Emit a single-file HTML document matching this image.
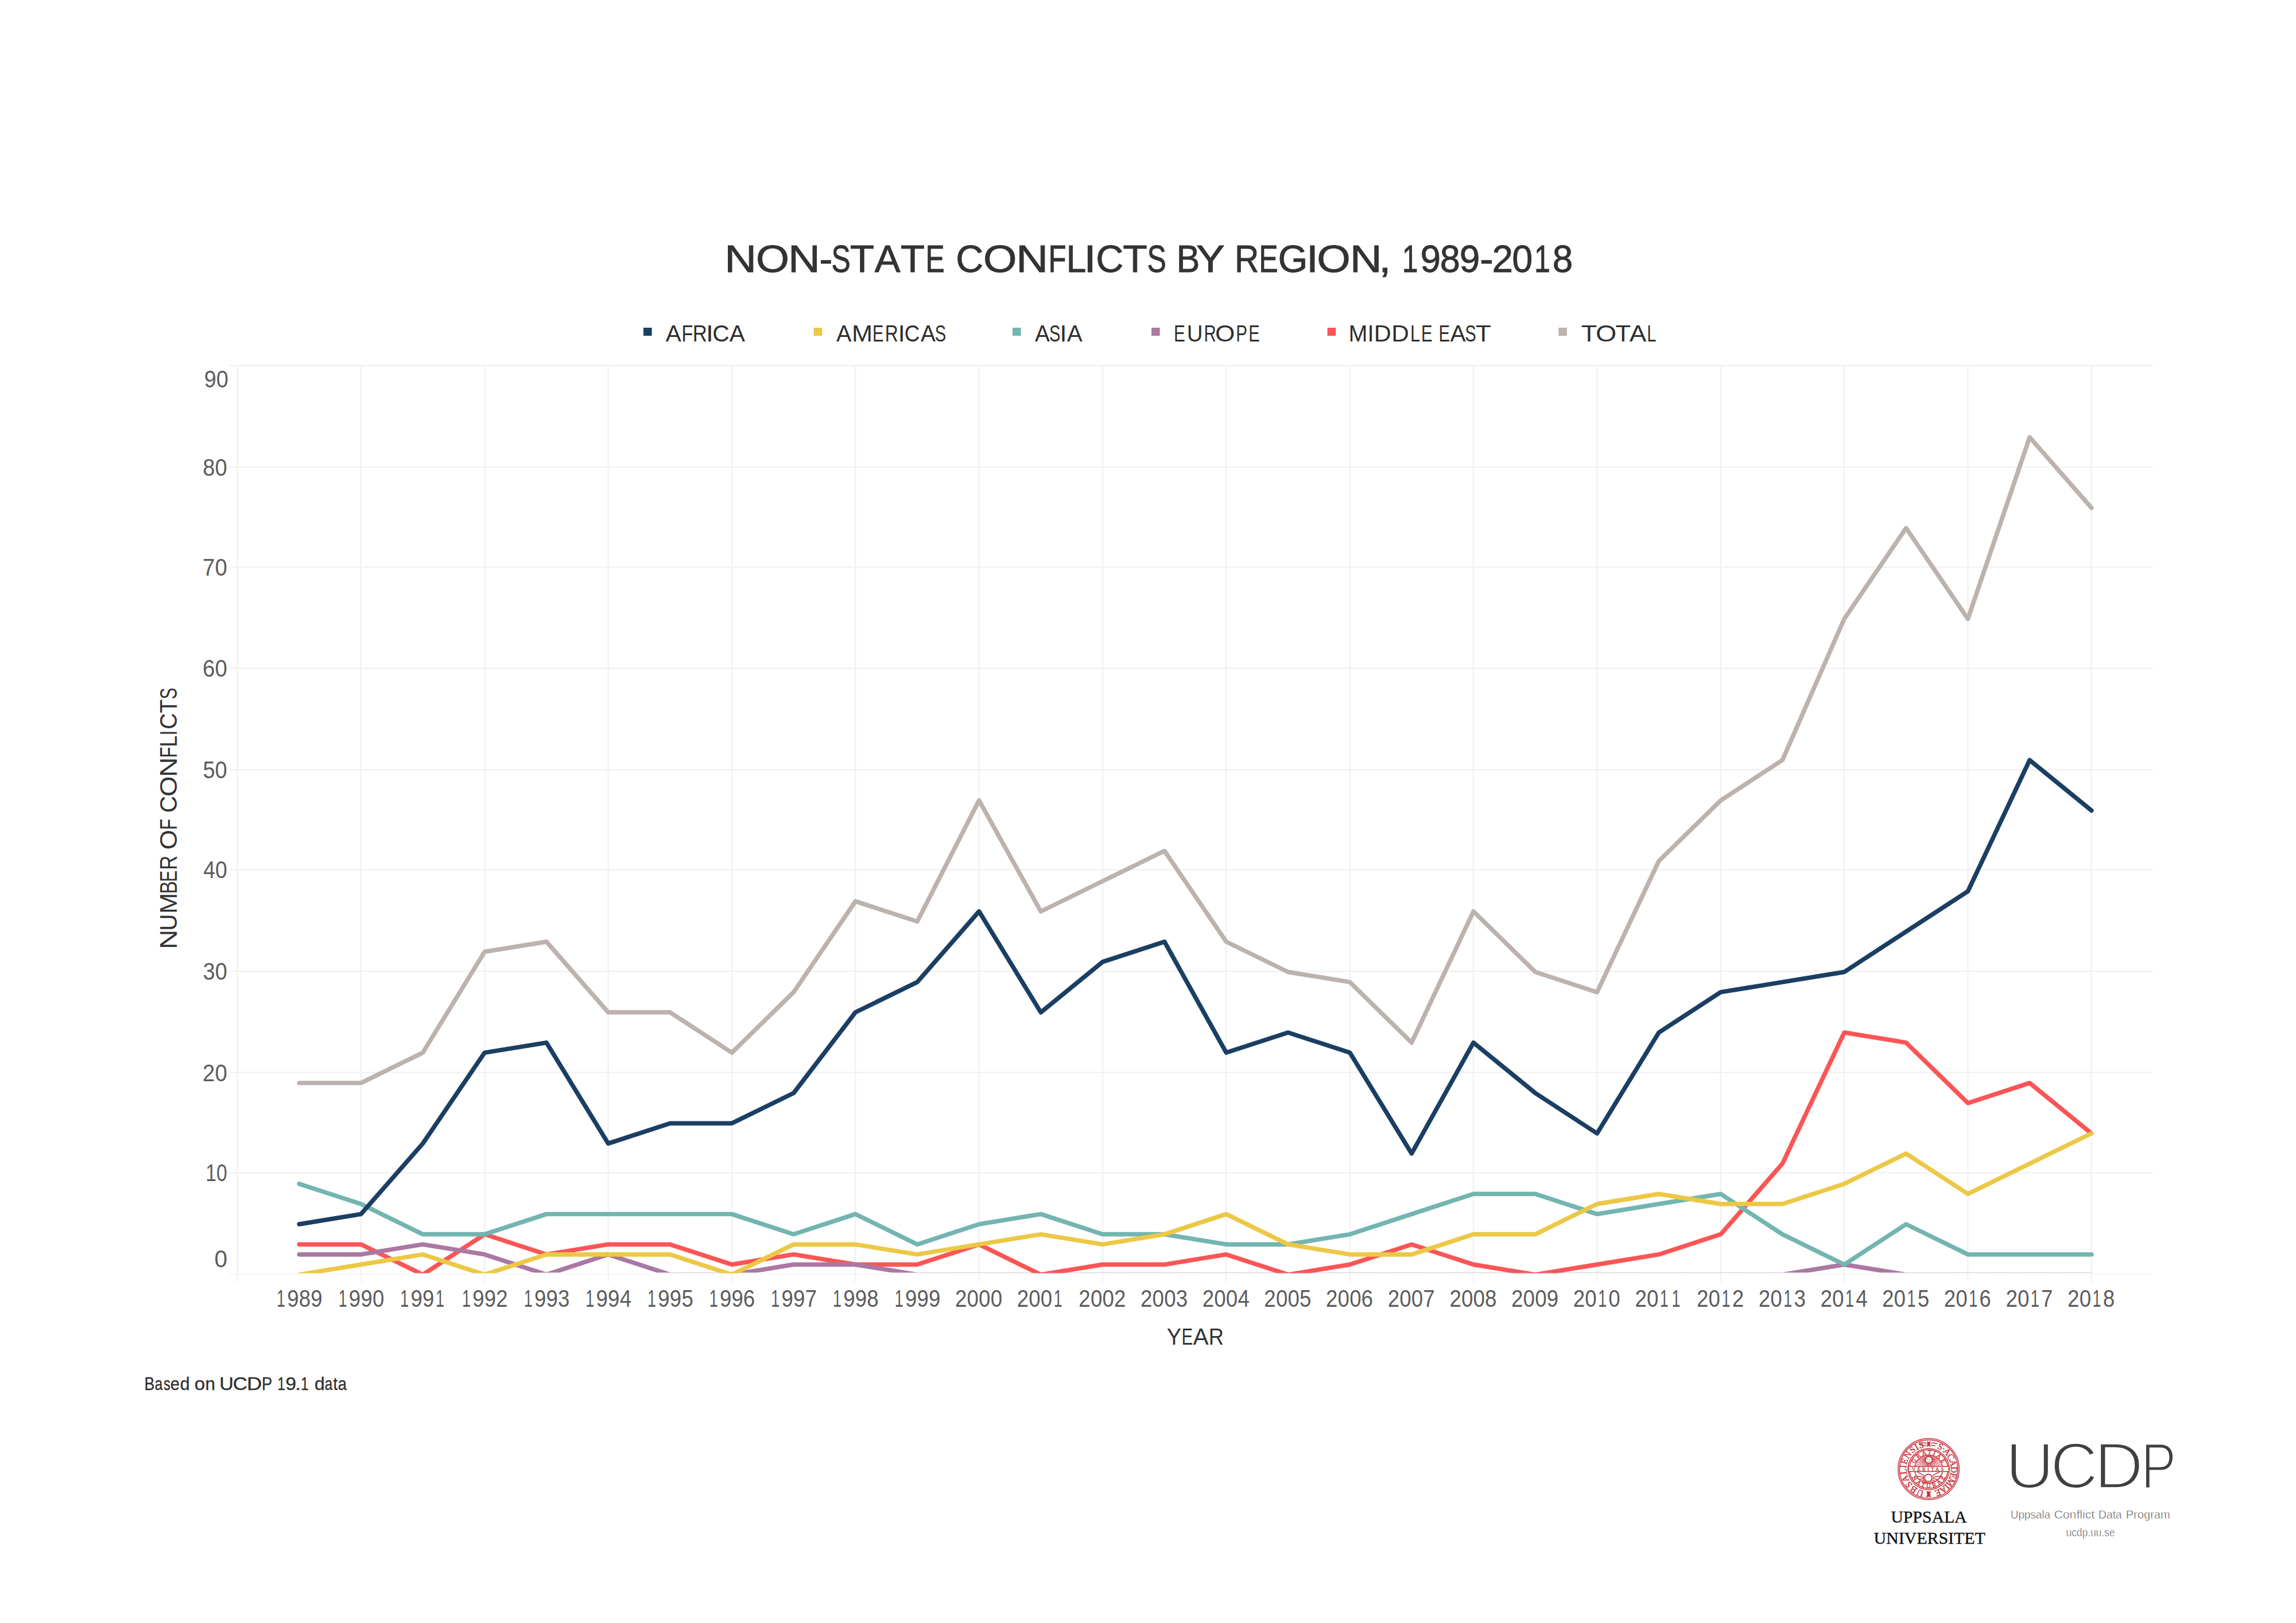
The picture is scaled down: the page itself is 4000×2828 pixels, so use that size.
<!DOCTYPE html>
<html lang="en"><head><meta charset="utf-8"><title>Non-state conflicts by region, 1989-2018</title>
<style>html,body{margin:0;padding:0;background:#fff}body{width:4000px;height:2828px;overflow:hidden}svg{display:block}</style></head><body>
<svg width="4000" height="2828" viewBox="0 0 4000 2828">
<rect width="4000" height="2828" fill="#ffffff"/>
<g stroke="#f3f2f2" stroke-width="2.6" fill="none">
<line x1="413.6" y1="637.0" x2="413.6" y2="2233.5"/>
<line x1="628.9" y1="637.0" x2="628.9" y2="2233.5"/>
<line x1="844.3" y1="637.0" x2="844.3" y2="2233.5"/>
<line x1="1059.6" y1="637.0" x2="1059.6" y2="2233.5"/>
<line x1="1275.0" y1="637.0" x2="1275.0" y2="2233.5"/>
<line x1="1490.3" y1="637.0" x2="1490.3" y2="2233.5"/>
<line x1="1705.6" y1="637.0" x2="1705.6" y2="2233.5"/>
<line x1="1921.0" y1="637.0" x2="1921.0" y2="2233.5"/>
<line x1="2136.3" y1="637.0" x2="2136.3" y2="2233.5"/>
<line x1="2351.7" y1="637.0" x2="2351.7" y2="2233.5"/>
<line x1="2567.0" y1="637.0" x2="2567.0" y2="2233.5"/>
<line x1="2782.3" y1="637.0" x2="2782.3" y2="2233.5"/>
<line x1="2997.7" y1="637.0" x2="2997.7" y2="2233.5"/>
<line x1="3213.0" y1="637.0" x2="3213.0" y2="2233.5"/>
<line x1="3428.4" y1="637.0" x2="3428.4" y2="2233.5"/>
<line x1="3643.7" y1="637.0" x2="3643.7" y2="2233.5"/>
</g>
<g stroke="#f3f2f2" stroke-width="2.5" fill="none">
<line x1="399.7" y1="637.0" x2="3751.0" y2="637.0"/>
<line x1="399.7" y1="2043.7" x2="3751.0" y2="2043.7"/>
<line x1="399.7" y1="1868.8" x2="3751.0" y2="1868.8"/>
<line x1="399.7" y1="1692.6" x2="3751.0" y2="1692.6"/>
<line x1="399.7" y1="1515.6" x2="3751.0" y2="1515.6"/>
<line x1="399.7" y1="1341.2" x2="3751.0" y2="1341.2"/>
<line x1="399.7" y1="1164.4" x2="3751.0" y2="1164.4"/>
<line x1="399.7" y1="988.0" x2="3751.0" y2="988.0"/>
<line x1="399.7" y1="813.8" x2="3751.0" y2="813.8"/>
<line x1="399.7" y1="2220.0" x2="3751.0" y2="2220.0" stroke-dasharray="5 2" stroke-width="2.4" stroke="#f5f5f5"/>
</g>
<defs><clipPath id="plot"><rect x="413.2" y="637.0" width="3337.8" height="1581.6"/></clipPath><clipPath id="plotE"><rect x="413.2" y="637.0" width="3337.8" height="1580.5"/></clipPath></defs>
<g clip-path="url(#plot)"><polyline fill="none" stroke="#bcb2ae" stroke-width="7.7" stroke-linejoin="round" stroke-linecap="round" points="521.3,1887.0 628.9,1887.0 736.6,1834.2 844.3,1658.4 952.0,1640.9 1059.6,1763.9 1167.3,1763.9 1275.0,1834.2 1382.6,1728.8 1490.3,1570.5 1598.0,1605.7 1705.6,1394.7 1813.3,1588.1 1921.0,1535.4 2028.7,1482.6 2136.3,1640.9 2244.0,1693.6 2351.7,1711.2 2459.3,1816.7 2567.0,1588.1 2674.7,1693.6 2782.3,1728.8 2890.0,1500.2 2997.7,1394.7 3105.3,1324.4 3213.0,1078.3 3320.7,920.1 3428.4,1078.3 3536.0,761.9 3643.7,884.9"/></g>
<g clip-path="url(#plot)"><polyline fill="none" stroke="#fc5555" stroke-width="7.7" stroke-linejoin="round" stroke-linecap="round" points="521.3,2168.3 628.9,2168.3 736.6,2221.0 844.3,2150.7 952.0,2185.8 1059.6,2168.3 1167.3,2168.3 1275.0,2203.4 1382.6,2185.8 1490.3,2203.4 1598.0,2203.4 1705.6,2168.3 1813.3,2221.0 1921.0,2203.4 2028.7,2203.4 2136.3,2185.8 2244.0,2221.0 2351.7,2203.4 2459.3,2168.3 2567.0,2203.4 2674.7,2221.0 2782.3,2203.4 2890.0,2185.8 2997.7,2150.7 3105.3,2027.6 3213.0,1799.1 3320.7,1816.7 3428.4,1922.1 3536.0,1887.0 3643.7,1974.9"/></g>
<g clip-path="url(#plotE)"><polyline fill="none" stroke="#aa78a3" stroke-width="7.7" stroke-linejoin="round" stroke-linecap="round" points="521.3,2185.8 628.9,2185.8 736.6,2168.3 844.3,2185.8 952.0,2221.0 1059.6,2185.8 1167.3,2221.0 1275.0,2221.0 1382.6,2203.4 1490.3,2203.4 1598.0,2221.0 1705.6,2221.0 1813.3,2221.0 1921.0,2221.0 2028.7,2221.0 2136.3,2221.0 2244.0,2221.0 2351.7,2221.0 2459.3,2221.0 2567.0,2221.0 2674.7,2221.0 2782.3,2221.0 2890.0,2221.0 2997.7,2221.0 3105.3,2221.0 3213.0,2203.4 3320.7,2221.0 3428.4,2221.0 3536.0,2221.0 3643.7,2221.0"/></g>
<g clip-path="url(#plot)"><polyline fill="none" stroke="#73b5b0" stroke-width="7.7" stroke-linejoin="round" stroke-linecap="round" points="521.3,2062.8 628.9,2097.9 736.6,2150.7 844.3,2150.7 952.0,2115.5 1059.6,2115.5 1167.3,2115.5 1275.0,2115.5 1382.6,2150.7 1490.3,2115.5 1598.0,2168.3 1705.6,2133.1 1813.3,2115.5 1921.0,2150.7 2028.7,2150.7 2136.3,2168.3 2244.0,2168.3 2351.7,2150.7 2459.3,2115.5 2567.0,2080.4 2674.7,2080.4 2782.3,2115.5 2890.0,2097.9 2997.7,2080.4 3105.3,2150.7 3213.0,2203.4 3320.7,2133.1 3428.4,2185.8 3536.0,2185.8 3643.7,2185.8"/></g>
<g clip-path="url(#plot)"><polyline fill="none" stroke="#ecc846" stroke-width="7.7" stroke-linejoin="round" stroke-linecap="round" points="521.3,2221.0 628.9,2203.4 736.6,2185.8 844.3,2221.0 952.0,2185.8 1059.6,2185.8 1167.3,2185.8 1275.0,2221.0 1382.6,2168.3 1490.3,2168.3 1598.0,2185.8 1705.6,2168.3 1813.3,2150.7 1921.0,2168.3 2028.7,2150.7 2136.3,2115.5 2244.0,2168.3 2351.7,2185.8 2459.3,2185.8 2567.0,2150.7 2674.7,2150.7 2782.3,2097.9 2890.0,2080.4 2997.7,2097.9 3105.3,2097.9 3213.0,2062.8 3320.7,2010.0 3428.4,2080.4 3536.0,2027.6 3643.7,1974.9"/></g>
<g clip-path="url(#plot)"><polyline fill="none" stroke="#1b3f63" stroke-width="7.7" stroke-linejoin="round" stroke-linecap="round" points="521.3,2133.1 628.9,2115.5 736.6,1992.5 844.3,1834.2 952.0,1816.7 1059.6,1992.5 1167.3,1957.3 1275.0,1957.3 1382.6,1904.6 1490.3,1763.9 1598.0,1711.2 1705.6,1588.1 1813.3,1763.9 1921.0,1676.0 2028.7,1640.9 2136.3,1834.2 2244.0,1799.1 2351.7,1834.2 2459.3,2010.0 2567.0,1816.7 2674.7,1904.6 2782.3,1974.9 2890.0,1799.1 2997.7,1728.8 3105.3,1711.2 3213.0,1693.6 3320.7,1623.3 3428.4,1553.0 3536.0,1324.4 3643.7,1412.3"/></g>
<text y="474.20" font-family="Liberation Sans, sans-serif" font-size="67.3" fill="#333333" stroke="#333333" stroke-width="0.9"><tspan x="1262.16" textLength="55.89" lengthAdjust="spacingAndGlyphs">N</tspan><tspan x="1317.12" textLength="57.94" lengthAdjust="spacingAndGlyphs">O</tspan><tspan x="1373.11" textLength="55.89" lengthAdjust="spacingAndGlyphs">N</tspan><tspan x="1427.43" textLength="22.82" lengthAdjust="spacingAndGlyphs">-</tspan><tspan x="1448.55" textLength="33.22" lengthAdjust="spacingAndGlyphs">S</tspan><tspan x="1481.00" textLength="41.96" lengthAdjust="spacingAndGlyphs">T</tspan><tspan x="1523.68" textLength="44.97" lengthAdjust="spacingAndGlyphs">A</tspan><tspan x="1569.00" textLength="41.96" lengthAdjust="spacingAndGlyphs">T</tspan><tspan x="1612.45" textLength="33.22" lengthAdjust="spacingAndGlyphs">E</tspan> <tspan x="1665.37" textLength="48.12" lengthAdjust="spacingAndGlyphs">C</tspan><tspan x="1713.09" textLength="58.51" lengthAdjust="spacingAndGlyphs">O</tspan><tspan x="1770.16" textLength="55.89" lengthAdjust="spacingAndGlyphs">N</tspan><tspan x="1826.45" textLength="31.13" lengthAdjust="spacingAndGlyphs">F</tspan><tspan x="1857.83" textLength="34.51" lengthAdjust="spacingAndGlyphs">L</tspan><tspan x="1888.26" textLength="21.50" lengthAdjust="spacingAndGlyphs">I</tspan><tspan x="1909.27" textLength="48.12" lengthAdjust="spacingAndGlyphs">C</tspan><tspan x="1956.28" textLength="42.51" lengthAdjust="spacingAndGlyphs">T</tspan><tspan x="1998.50" textLength="33.22" lengthAdjust="spacingAndGlyphs">S</tspan> <tspan x="2049.74" textLength="40.52" lengthAdjust="spacingAndGlyphs">B</tspan><tspan x="2083.91" textLength="48.41" lengthAdjust="spacingAndGlyphs">Y</tspan> <tspan x="2151.01" textLength="42.36" lengthAdjust="spacingAndGlyphs">R</tspan><tspan x="2193.15" textLength="33.22" lengthAdjust="spacingAndGlyphs">E</tspan><tspan x="2226.57" textLength="51.79" lengthAdjust="spacingAndGlyphs">G</tspan><tspan x="2276.00" textLength="20.84" lengthAdjust="spacingAndGlyphs">I</tspan><tspan x="2294.29" textLength="58.51" lengthAdjust="spacingAndGlyphs">O</tspan><tspan x="2351.71" textLength="55.89" lengthAdjust="spacingAndGlyphs">N</tspan><tspan x="2402.09" textLength="21.50" lengthAdjust="spacingAndGlyphs">,</tspan> <tspan x="2442.82" textLength="27.70" lengthAdjust="spacingAndGlyphs">1</tspan><tspan x="2474.52" textLength="35.53" lengthAdjust="spacingAndGlyphs">9</tspan><tspan x="2508.77" textLength="35.03" lengthAdjust="spacingAndGlyphs">8</tspan><tspan x="2542.82" textLength="35.53" lengthAdjust="spacingAndGlyphs">9</tspan><tspan x="2578.03" textLength="23.63" lengthAdjust="spacingAndGlyphs">-</tspan><tspan x="2599.62" textLength="36.54" lengthAdjust="spacingAndGlyphs">2</tspan><tspan x="2634.32" textLength="35.94" lengthAdjust="spacingAndGlyphs">0</tspan><tspan x="2673.07" textLength="27.70" lengthAdjust="spacingAndGlyphs">1</tspan><tspan x="2704.74" textLength="35.38" lengthAdjust="spacingAndGlyphs">8</tspan></text>
<rect x="1121" y="571" width="14.6" height="14" fill="#1b3f63"/>
<text y="595.20" font-family="Liberation Sans, sans-serif" font-size="40.5" fill="#2e2e2e" ><tspan x="1159.76" textLength="27.08" lengthAdjust="spacingAndGlyphs">A</tspan><tspan x="1187.39" textLength="19.83" lengthAdjust="spacingAndGlyphs">F</tspan><tspan x="1206.81" textLength="25.07" lengthAdjust="spacingAndGlyphs">R</tspan><tspan x="1229.90" textLength="12.80" lengthAdjust="spacingAndGlyphs">I</tspan><tspan x="1241.26" textLength="29.42" lengthAdjust="spacingAndGlyphs">C</tspan><tspan x="1270.86" textLength="27.18" lengthAdjust="spacingAndGlyphs">A</tspan></text>
<rect x="1417.7" y="571" width="14.6" height="14" fill="#ecc846"/>
<text y="595.20" font-family="Liberation Sans, sans-serif" font-size="40.5" fill="#2e2e2e" ><tspan x="1457.07" textLength="26.27" lengthAdjust="spacingAndGlyphs">A</tspan><tspan x="1483.99" textLength="36.11" lengthAdjust="spacingAndGlyphs">M</tspan><tspan x="1520.10" textLength="19.45" lengthAdjust="spacingAndGlyphs">E</tspan><tspan x="1541.65" textLength="23.00" lengthAdjust="spacingAndGlyphs">R</tspan><tspan x="1564.70" textLength="11.91" lengthAdjust="spacingAndGlyphs">I</tspan><tspan x="1575.76" textLength="26.57" lengthAdjust="spacingAndGlyphs">C</tspan><tspan x="1604.07" textLength="25.87" lengthAdjust="spacingAndGlyphs">A</tspan><tspan x="1628.73" textLength="19.45" lengthAdjust="spacingAndGlyphs">S</tspan></text>
<rect x="1764" y="571" width="14.6" height="14" fill="#73b5b0"/>
<text y="595.20" font-family="Liberation Sans, sans-serif" font-size="40.5" fill="#2e2e2e" ><tspan x="1803.07" textLength="25.87" lengthAdjust="spacingAndGlyphs">A</tspan><tspan x="1828.03" textLength="19.45" lengthAdjust="spacingAndGlyphs">S</tspan><tspan x="1846.40" textLength="11.91" lengthAdjust="spacingAndGlyphs">I</tspan><tspan x="1858.97" textLength="26.68" lengthAdjust="spacingAndGlyphs">A</tspan></text>
<rect x="2006" y="571" width="14.6" height="14" fill="#aa78a3"/>
<text y="595.20" font-family="Liberation Sans, sans-serif" font-size="40.5" fill="#2e2e2e" ><tspan x="2045.03" textLength="19.76" lengthAdjust="spacingAndGlyphs">E</tspan><tspan x="2067.85" textLength="27.75" lengthAdjust="spacingAndGlyphs">U</tspan><tspan x="2097.56" textLength="21.18" lengthAdjust="spacingAndGlyphs">R</tspan><tspan x="2117.14" textLength="34.38" lengthAdjust="spacingAndGlyphs">O</tspan><tspan x="2153.35" textLength="19.63" lengthAdjust="spacingAndGlyphs">P</tspan><tspan x="2175.25" textLength="19.45" lengthAdjust="spacingAndGlyphs">E</tspan></text>
<rect x="2312.5" y="571" width="14.6" height="14" fill="#fc5555"/>
<text y="595.20" font-family="Liberation Sans, sans-serif" font-size="40.5" fill="#2e2e2e" ><tspan x="2349.41" textLength="32.86" lengthAdjust="spacingAndGlyphs">M</tspan><tspan x="2382.60" textLength="11.01" lengthAdjust="spacingAndGlyphs">I</tspan><tspan x="2393.85" textLength="29.87" lengthAdjust="spacingAndGlyphs">D</tspan><tspan x="2424.28" textLength="30.48" lengthAdjust="spacingAndGlyphs">D</tspan><tspan x="2456.96" textLength="16.94" lengthAdjust="spacingAndGlyphs">L</tspan><tspan x="2476.05" textLength="19.45" lengthAdjust="spacingAndGlyphs">E</tspan> <tspan x="2506.50" textLength="19.45" lengthAdjust="spacingAndGlyphs">E</tspan><tspan x="2526.46" textLength="27.08" lengthAdjust="spacingAndGlyphs">A</tspan><tspan x="2552.23" textLength="19.45" lengthAdjust="spacingAndGlyphs">S</tspan><tspan x="2570.67" textLength="27.00" lengthAdjust="spacingAndGlyphs">T</tspan></text>
<rect x="2715.2" y="571" width="14.6" height="14" fill="#bcb2ae"/>
<text y="595.20" font-family="Liberation Sans, sans-serif" font-size="40.5" fill="#2e2e2e" ><tspan x="2754.86" textLength="27.22" lengthAdjust="spacingAndGlyphs">T</tspan><tspan x="2780.11" textLength="36.23" lengthAdjust="spacingAndGlyphs">O</tspan><tspan x="2814.59" textLength="26.46" lengthAdjust="spacingAndGlyphs">T</tspan><tspan x="2838.65" textLength="29.51" lengthAdjust="spacingAndGlyphs">A</tspan><tspan x="2869.20" textLength="16.22" lengthAdjust="spacingAndGlyphs">L</tspan></text>
<text transform="translate(373.47,2208.40) scale(0.9465,1.0000)" font-family="Liberation Sans, sans-serif" font-size="43" fill="#5c5c5c" >0</text>
<text transform="translate(358.21,2058.40) scale(0.7863,1.0000)" font-family="Liberation Sans, sans-serif" font-size="43" fill="#5c5c5c" >10</text>
<text transform="translate(353.08,1883.50) scale(0.8931,1.0000)" font-family="Liberation Sans, sans-serif" font-size="43" fill="#5c5c5c" >20</text>
<text transform="translate(353.61,1707.30) scale(0.8816,1.0000)" font-family="Liberation Sans, sans-serif" font-size="43" fill="#5c5c5c" >30</text>
<text transform="translate(354.13,1530.30) scale(0.8704,1.0000)" font-family="Liberation Sans, sans-serif" font-size="43" fill="#5c5c5c" >40</text>
<text transform="translate(353.48,1355.90) scale(0.8845,1.0000)" font-family="Liberation Sans, sans-serif" font-size="43" fill="#5c5c5c" >50</text>
<text transform="translate(353.08,1179.10) scale(0.8931,1.0000)" font-family="Liberation Sans, sans-serif" font-size="43" fill="#5c5c5c" >60</text>
<text transform="translate(353.08,1002.70) scale(0.8931,1.0000)" font-family="Liberation Sans, sans-serif" font-size="43" fill="#5c5c5c" >70</text>
<text transform="translate(353.35,828.50) scale(0.8873,1.0000)" font-family="Liberation Sans, sans-serif" font-size="43" fill="#5c5c5c" >80</text>
<text transform="translate(355.63,675.40) scale(0.8812,1.0000)" font-family="Liberation Sans, sans-serif" font-size="43" fill="#5c5c5c" >90</text>
<text y="2277.00" font-family="Liberation Sans, sans-serif" font-size="42" fill="#5c5c5c" ><tspan x="482.00" textLength="14.95" lengthAdjust="spacingAndGlyphs">1</tspan><tspan x="500.20" textLength="20.37" lengthAdjust="spacingAndGlyphs">9</tspan><tspan x="520.75" textLength="20.37" lengthAdjust="spacingAndGlyphs">8</tspan><tspan x="541.30" textLength="20.37" lengthAdjust="spacingAndGlyphs">9</tspan></text>
<text y="2277.00" font-family="Liberation Sans, sans-serif" font-size="42" fill="#5c5c5c" ><tspan x="589.68" textLength="14.95" lengthAdjust="spacingAndGlyphs">1</tspan><tspan x="607.87" textLength="20.37" lengthAdjust="spacingAndGlyphs">9</tspan><tspan x="628.42" textLength="20.37" lengthAdjust="spacingAndGlyphs">9</tspan><tspan x="648.97" textLength="20.37" lengthAdjust="spacingAndGlyphs">0</tspan></text>
<text y="2277.00" font-family="Liberation Sans, sans-serif" font-size="42" fill="#5c5c5c" ><tspan x="697.35" textLength="14.95" lengthAdjust="spacingAndGlyphs">1</tspan><tspan x="715.54" textLength="20.37" lengthAdjust="spacingAndGlyphs">9</tspan><tspan x="736.09" textLength="20.37" lengthAdjust="spacingAndGlyphs">9</tspan><tspan x="759.00" textLength="14.95" lengthAdjust="spacingAndGlyphs">1</tspan></text>
<text y="2277.00" font-family="Liberation Sans, sans-serif" font-size="42" fill="#5c5c5c" ><tspan x="805.01" textLength="14.95" lengthAdjust="spacingAndGlyphs">1</tspan><tspan x="823.21" textLength="20.37" lengthAdjust="spacingAndGlyphs">9</tspan><tspan x="843.76" textLength="20.37" lengthAdjust="spacingAndGlyphs">9</tspan><tspan x="864.31" textLength="20.37" lengthAdjust="spacingAndGlyphs">2</tspan></text>
<text y="2277.00" font-family="Liberation Sans, sans-serif" font-size="42" fill="#5c5c5c" ><tspan x="912.69" textLength="14.95" lengthAdjust="spacingAndGlyphs">1</tspan><tspan x="930.88" textLength="20.37" lengthAdjust="spacingAndGlyphs">9</tspan><tspan x="951.43" textLength="20.37" lengthAdjust="spacingAndGlyphs">9</tspan><tspan x="972.10" textLength="20.37" lengthAdjust="spacingAndGlyphs">3</tspan></text>
<text y="2277.00" font-family="Liberation Sans, sans-serif" font-size="42" fill="#5c5c5c" ><tspan x="1020.36" textLength="14.95" lengthAdjust="spacingAndGlyphs">1</tspan><tspan x="1038.55" textLength="20.37" lengthAdjust="spacingAndGlyphs">9</tspan><tspan x="1059.10" textLength="20.37" lengthAdjust="spacingAndGlyphs">9</tspan><tspan x="1079.77" textLength="20.37" lengthAdjust="spacingAndGlyphs">4</tspan></text>
<text y="2277.00" font-family="Liberation Sans, sans-serif" font-size="42" fill="#5c5c5c" ><tspan x="1128.03" textLength="14.95" lengthAdjust="spacingAndGlyphs">1</tspan><tspan x="1146.22" textLength="20.37" lengthAdjust="spacingAndGlyphs">9</tspan><tspan x="1166.77" textLength="20.37" lengthAdjust="spacingAndGlyphs">9</tspan><tspan x="1187.38" textLength="20.37" lengthAdjust="spacingAndGlyphs">5</tspan></text>
<text y="2277.00" font-family="Liberation Sans, sans-serif" font-size="42" fill="#5c5c5c" ><tspan x="1235.70" textLength="14.95" lengthAdjust="spacingAndGlyphs">1</tspan><tspan x="1253.89" textLength="20.37" lengthAdjust="spacingAndGlyphs">9</tspan><tspan x="1274.44" textLength="20.37" lengthAdjust="spacingAndGlyphs">9</tspan><tspan x="1294.87" textLength="20.37" lengthAdjust="spacingAndGlyphs">6</tspan></text>
<text y="2277.00" font-family="Liberation Sans, sans-serif" font-size="42" fill="#5c5c5c" ><tspan x="1343.37" textLength="14.95" lengthAdjust="spacingAndGlyphs">1</tspan><tspan x="1361.56" textLength="20.37" lengthAdjust="spacingAndGlyphs">9</tspan><tspan x="1382.11" textLength="20.37" lengthAdjust="spacingAndGlyphs">9</tspan><tspan x="1402.66" textLength="20.37" lengthAdjust="spacingAndGlyphs">7</tspan></text>
<text y="2277.00" font-family="Liberation Sans, sans-serif" font-size="42" fill="#5c5c5c" ><tspan x="1451.04" textLength="14.95" lengthAdjust="spacingAndGlyphs">1</tspan><tspan x="1469.23" textLength="20.37" lengthAdjust="spacingAndGlyphs">9</tspan><tspan x="1489.78" textLength="20.37" lengthAdjust="spacingAndGlyphs">9</tspan><tspan x="1510.33" textLength="20.37" lengthAdjust="spacingAndGlyphs">8</tspan></text>
<text y="2277.00" font-family="Liberation Sans, sans-serif" font-size="42" fill="#5c5c5c" ><tspan x="1558.71" textLength="14.95" lengthAdjust="spacingAndGlyphs">1</tspan><tspan x="1576.90" textLength="20.37" lengthAdjust="spacingAndGlyphs">9</tspan><tspan x="1597.45" textLength="20.37" lengthAdjust="spacingAndGlyphs">9</tspan><tspan x="1618.00" textLength="20.37" lengthAdjust="spacingAndGlyphs">9</tspan></text>
<text y="2277.00" font-family="Liberation Sans, sans-serif" font-size="42" fill="#5c5c5c" ><tspan x="1664.02" textLength="20.37" lengthAdjust="spacingAndGlyphs">2</tspan><tspan x="1684.57" textLength="20.37" lengthAdjust="spacingAndGlyphs">0</tspan><tspan x="1705.12" textLength="20.37" lengthAdjust="spacingAndGlyphs">0</tspan><tspan x="1725.67" textLength="20.37" lengthAdjust="spacingAndGlyphs">0</tspan></text>
<text y="2277.00" font-family="Liberation Sans, sans-serif" font-size="42" fill="#5c5c5c" ><tspan x="1771.69" textLength="20.37" lengthAdjust="spacingAndGlyphs">2</tspan><tspan x="1792.24" textLength="20.37" lengthAdjust="spacingAndGlyphs">0</tspan><tspan x="1812.79" textLength="20.37" lengthAdjust="spacingAndGlyphs">0</tspan><tspan x="1835.70" textLength="14.95" lengthAdjust="spacingAndGlyphs">1</tspan></text>
<text y="2277.00" font-family="Liberation Sans, sans-serif" font-size="42" fill="#5c5c5c" ><tspan x="1879.36" textLength="20.37" lengthAdjust="spacingAndGlyphs">2</tspan><tspan x="1899.91" textLength="20.37" lengthAdjust="spacingAndGlyphs">0</tspan><tspan x="1920.46" textLength="20.37" lengthAdjust="spacingAndGlyphs">0</tspan><tspan x="1941.01" textLength="20.37" lengthAdjust="spacingAndGlyphs">2</tspan></text>
<text y="2277.00" font-family="Liberation Sans, sans-serif" font-size="42" fill="#5c5c5c" ><tspan x="1987.03" textLength="20.37" lengthAdjust="spacingAndGlyphs">2</tspan><tspan x="2007.58" textLength="20.37" lengthAdjust="spacingAndGlyphs">0</tspan><tspan x="2028.13" textLength="20.37" lengthAdjust="spacingAndGlyphs">0</tspan><tspan x="2048.80" textLength="20.37" lengthAdjust="spacingAndGlyphs">3</tspan></text>
<text y="2277.00" font-family="Liberation Sans, sans-serif" font-size="42" fill="#5c5c5c" ><tspan x="2094.70" textLength="20.37" lengthAdjust="spacingAndGlyphs">2</tspan><tspan x="2115.25" textLength="20.37" lengthAdjust="spacingAndGlyphs">0</tspan><tspan x="2135.80" textLength="20.37" lengthAdjust="spacingAndGlyphs">0</tspan><tspan x="2156.47" textLength="20.37" lengthAdjust="spacingAndGlyphs">4</tspan></text>
<text y="2277.00" font-family="Liberation Sans, sans-serif" font-size="42" fill="#5c5c5c" ><tspan x="2202.37" textLength="20.37" lengthAdjust="spacingAndGlyphs">2</tspan><tspan x="2222.92" textLength="20.37" lengthAdjust="spacingAndGlyphs">0</tspan><tspan x="2243.47" textLength="20.37" lengthAdjust="spacingAndGlyphs">0</tspan><tspan x="2264.08" textLength="20.37" lengthAdjust="spacingAndGlyphs">5</tspan></text>
<text y="2277.00" font-family="Liberation Sans, sans-serif" font-size="42" fill="#5c5c5c" ><tspan x="2310.04" textLength="20.37" lengthAdjust="spacingAndGlyphs">2</tspan><tspan x="2330.59" textLength="20.37" lengthAdjust="spacingAndGlyphs">0</tspan><tspan x="2351.14" textLength="20.37" lengthAdjust="spacingAndGlyphs">0</tspan><tspan x="2371.57" textLength="20.37" lengthAdjust="spacingAndGlyphs">6</tspan></text>
<text y="2277.00" font-family="Liberation Sans, sans-serif" font-size="42" fill="#5c5c5c" ><tspan x="2417.71" textLength="20.37" lengthAdjust="spacingAndGlyphs">2</tspan><tspan x="2438.26" textLength="20.37" lengthAdjust="spacingAndGlyphs">0</tspan><tspan x="2458.81" textLength="20.37" lengthAdjust="spacingAndGlyphs">0</tspan><tspan x="2479.36" textLength="20.37" lengthAdjust="spacingAndGlyphs">7</tspan></text>
<text y="2277.00" font-family="Liberation Sans, sans-serif" font-size="42" fill="#5c5c5c" ><tspan x="2525.38" textLength="20.37" lengthAdjust="spacingAndGlyphs">2</tspan><tspan x="2545.93" textLength="20.37" lengthAdjust="spacingAndGlyphs">0</tspan><tspan x="2566.48" textLength="20.37" lengthAdjust="spacingAndGlyphs">0</tspan><tspan x="2587.03" textLength="20.37" lengthAdjust="spacingAndGlyphs">8</tspan></text>
<text y="2277.00" font-family="Liberation Sans, sans-serif" font-size="42" fill="#5c5c5c" ><tspan x="2633.05" textLength="20.37" lengthAdjust="spacingAndGlyphs">2</tspan><tspan x="2653.60" textLength="20.37" lengthAdjust="spacingAndGlyphs">0</tspan><tspan x="2674.15" textLength="20.37" lengthAdjust="spacingAndGlyphs">0</tspan><tspan x="2694.70" textLength="20.37" lengthAdjust="spacingAndGlyphs">9</tspan></text>
<text y="2277.00" font-family="Liberation Sans, sans-serif" font-size="42" fill="#5c5c5c" ><tspan x="2740.72" textLength="20.37" lengthAdjust="spacingAndGlyphs">2</tspan><tspan x="2761.27" textLength="20.37" lengthAdjust="spacingAndGlyphs">0</tspan><tspan x="2784.18" textLength="14.95" lengthAdjust="spacingAndGlyphs">1</tspan><tspan x="2802.37" textLength="20.37" lengthAdjust="spacingAndGlyphs">0</tspan></text>
<text y="2277.00" font-family="Liberation Sans, sans-serif" font-size="42" fill="#5c5c5c" ><tspan x="2848.39" textLength="20.37" lengthAdjust="spacingAndGlyphs">2</tspan><tspan x="2868.94" textLength="20.37" lengthAdjust="spacingAndGlyphs">0</tspan><tspan x="2891.84" textLength="14.95" lengthAdjust="spacingAndGlyphs">1</tspan><tspan x="2912.39" textLength="14.95" lengthAdjust="spacingAndGlyphs">1</tspan></text>
<text y="2277.00" font-family="Liberation Sans, sans-serif" font-size="42" fill="#5c5c5c" ><tspan x="2956.06" textLength="20.37" lengthAdjust="spacingAndGlyphs">2</tspan><tspan x="2976.61" textLength="20.37" lengthAdjust="spacingAndGlyphs">0</tspan><tspan x="2999.51" textLength="14.95" lengthAdjust="spacingAndGlyphs">1</tspan><tspan x="3017.71" textLength="20.37" lengthAdjust="spacingAndGlyphs">2</tspan></text>
<text y="2277.00" font-family="Liberation Sans, sans-serif" font-size="42" fill="#5c5c5c" ><tspan x="3063.73" textLength="20.37" lengthAdjust="spacingAndGlyphs">2</tspan><tspan x="3084.28" textLength="20.37" lengthAdjust="spacingAndGlyphs">0</tspan><tspan x="3107.18" textLength="14.95" lengthAdjust="spacingAndGlyphs">1</tspan><tspan x="3125.50" textLength="20.37" lengthAdjust="spacingAndGlyphs">3</tspan></text>
<text y="2277.00" font-family="Liberation Sans, sans-serif" font-size="42" fill="#5c5c5c" ><tspan x="3171.40" textLength="20.37" lengthAdjust="spacingAndGlyphs">2</tspan><tspan x="3191.95" textLength="20.37" lengthAdjust="spacingAndGlyphs">0</tspan><tspan x="3214.86" textLength="14.95" lengthAdjust="spacingAndGlyphs">1</tspan><tspan x="3233.17" textLength="20.37" lengthAdjust="spacingAndGlyphs">4</tspan></text>
<text y="2277.00" font-family="Liberation Sans, sans-serif" font-size="42" fill="#5c5c5c" ><tspan x="3279.07" textLength="20.37" lengthAdjust="spacingAndGlyphs">2</tspan><tspan x="3299.62" textLength="20.37" lengthAdjust="spacingAndGlyphs">0</tspan><tspan x="3322.53" textLength="14.95" lengthAdjust="spacingAndGlyphs">1</tspan><tspan x="3340.78" textLength="20.37" lengthAdjust="spacingAndGlyphs">5</tspan></text>
<text y="2277.00" font-family="Liberation Sans, sans-serif" font-size="42" fill="#5c5c5c" ><tspan x="3386.74" textLength="20.37" lengthAdjust="spacingAndGlyphs">2</tspan><tspan x="3407.29" textLength="20.37" lengthAdjust="spacingAndGlyphs">0</tspan><tspan x="3430.20" textLength="14.95" lengthAdjust="spacingAndGlyphs">1</tspan><tspan x="3448.27" textLength="20.37" lengthAdjust="spacingAndGlyphs">6</tspan></text>
<text y="2277.00" font-family="Liberation Sans, sans-serif" font-size="42" fill="#5c5c5c" ><tspan x="3494.41" textLength="20.37" lengthAdjust="spacingAndGlyphs">2</tspan><tspan x="3514.96" textLength="20.37" lengthAdjust="spacingAndGlyphs">0</tspan><tspan x="3537.86" textLength="14.95" lengthAdjust="spacingAndGlyphs">1</tspan><tspan x="3556.06" textLength="20.37" lengthAdjust="spacingAndGlyphs">7</tspan></text>
<text y="2277.00" font-family="Liberation Sans, sans-serif" font-size="42" fill="#5c5c5c" ><tspan x="3602.08" textLength="20.37" lengthAdjust="spacingAndGlyphs">2</tspan><tspan x="3622.63" textLength="20.37" lengthAdjust="spacingAndGlyphs">0</tspan><tspan x="3645.53" textLength="14.95" lengthAdjust="spacingAndGlyphs">1</tspan><tspan x="3663.73" textLength="20.37" lengthAdjust="spacingAndGlyphs">8</tspan></text>
<text y="2343.40" font-family="Liberation Sans, sans-serif" font-size="41" fill="#333333" ><tspan x="2032.72" textLength="25.28" lengthAdjust="spacingAndGlyphs">Y</tspan><tspan x="2058.47" textLength="19.69" lengthAdjust="spacingAndGlyphs">E</tspan><tspan x="2078.56" textLength="27.08" lengthAdjust="spacingAndGlyphs">A</tspan><tspan x="2105.78" textLength="26.17" lengthAdjust="spacingAndGlyphs">R</tspan></text>
<text transform="translate(307.5,1650.9) rotate(-90)" y="0.00" font-family="Liberation Sans, sans-serif" font-size="41.6" fill="#333333" ><tspan x="-3.05" textLength="34.25" lengthAdjust="spacingAndGlyphs">N</tspan><tspan x="28.97" textLength="29.52" lengthAdjust="spacingAndGlyphs">U</tspan><tspan x="59.00" textLength="35.99" lengthAdjust="spacingAndGlyphs">M</tspan><tspan x="93.53" textLength="22.15" lengthAdjust="spacingAndGlyphs">B</tspan><tspan x="114.12" textLength="19.98" lengthAdjust="spacingAndGlyphs">E</tspan><tspan x="134.96" textLength="25.44" lengthAdjust="spacingAndGlyphs">R</tspan> <tspan x="170.32" textLength="34.60" lengthAdjust="spacingAndGlyphs">O</tspan><tspan x="204.98" textLength="19.20" lengthAdjust="spacingAndGlyphs">F</tspan> <tspan x="234.66" textLength="29.53" lengthAdjust="spacingAndGlyphs">C</tspan><tspan x="262.87" textLength="35.51" lengthAdjust="spacingAndGlyphs">O</tspan><tspan x="297.03" textLength="34.38" lengthAdjust="spacingAndGlyphs">N</tspan><tspan x="330.50" textLength="19.08" lengthAdjust="spacingAndGlyphs">F</tspan><tspan x="349.27" textLength="20.22" lengthAdjust="spacingAndGlyphs">L</tspan><tspan x="369.10" textLength="9.52" lengthAdjust="spacingAndGlyphs">I</tspan><tspan x="380.04" textLength="28.28" lengthAdjust="spacingAndGlyphs">C</tspan><tspan x="408.27" textLength="24.29" lengthAdjust="spacingAndGlyphs">T</tspan><tspan x="432.62" textLength="19.98" lengthAdjust="spacingAndGlyphs">S</tspan></text>
<text y="2422.30" font-family="Liberation Sans, sans-serif" font-size="32" fill="#2e2e2e" stroke="#2e2e2e" stroke-width="0.35"><tspan x="251.48" textLength="17.74" lengthAdjust="spacingAndGlyphs">B</tspan><tspan x="269.62" textLength="13.87" lengthAdjust="spacingAndGlyphs">a</tspan><tspan x="284.95" textLength="11.84" lengthAdjust="spacingAndGlyphs">s</tspan><tspan x="296.75" textLength="16.09" lengthAdjust="spacingAndGlyphs">e</tspan><tspan x="313.69" textLength="16.81" lengthAdjust="spacingAndGlyphs">d</tspan> <tspan x="338.87" textLength="18.45" lengthAdjust="spacingAndGlyphs">o</tspan><tspan x="357.51" textLength="17.47" lengthAdjust="spacingAndGlyphs">n</tspan> <tspan x="382.38" textLength="24.71" lengthAdjust="spacingAndGlyphs">U</tspan><tspan x="405.76" textLength="25.20" lengthAdjust="spacingAndGlyphs">C</tspan><tspan x="430.06" textLength="26.32" lengthAdjust="spacingAndGlyphs">D</tspan><tspan x="455.88" textLength="17.74" lengthAdjust="spacingAndGlyphs">P</tspan> <tspan x="483.54" textLength="13.17" lengthAdjust="spacingAndGlyphs">1</tspan><tspan x="497.64" textLength="18.60" lengthAdjust="spacingAndGlyphs">9</tspan><tspan x="513.94" textLength="10.06" lengthAdjust="spacingAndGlyphs">.</tspan><tspan x="524.14" textLength="13.17" lengthAdjust="spacingAndGlyphs">1</tspan> <tspan x="548.02" textLength="17.79" lengthAdjust="spacingAndGlyphs">d</tspan><tspan x="565.74" textLength="13.54" lengthAdjust="spacingAndGlyphs">a</tspan><tspan x="580.43" textLength="7.68" lengthAdjust="spacingAndGlyphs">t</tspan><tspan x="588.72" textLength="15.17" lengthAdjust="spacingAndGlyphs">a</tspan></text>
<g fill="none" stroke="#c8323c" stroke-width="1.5">
<circle cx="3360.0" cy="2559.8" r="53.2"/>
<circle cx="3360.0" cy="2559.8" r="50.8"/>
<circle cx="3360.0" cy="2559.8" r="35.9"/>
<circle cx="3360.0" cy="2559.8" r="33.5"/>
<circle cx="3360.0" cy="2559.8" r="24.5"/>
<path stroke-width="0.95" d="M3359.95,2550.38L3359.63,2555.00 M3359.07,2550.26L3358.06,2555.00 M3358.21,2550.01L3356.40,2555.00 M3357.40,2549.65L3354.55,2555.00 M3356.64,2549.18L3352.41,2555.00 M3355.95,2548.60L3349.78,2555.00 M3355.36,2547.94L3346.32,2555.00 M3354.86,2547.20L3341.35,2555.00 M3354.47,2546.40L3336.60,2553.61 M3354.19,2545.55L3338.07,2549.57 M3354.04,2544.67L3340.02,2546.14 M3354.00,2543.78L3342.24,2543.37 M3354.10,2542.89L3344.52,2541.20 M3354.31,2542.02L3346.73,2539.56 M3354.65,2541.19L3348.81,2538.34 M3355.09,2540.42L3350.70,2537.46 M3355.64,2539.72L3352.42,2536.82 M3356.29,2539.10L3353.99,2536.36 M3357.01,2538.57L3355.42,2536.04 M3357.80,2538.15L3356.76,2535.82 M3358.64,2537.85L3358.01,2535.68 M3359.51,2537.66L3359.22,2535.61 M3360.40,2537.60L3360.40,2535.60 M3361.29,2537.66L3361.57,2535.65 M3362.16,2537.85L3362.76,2535.76 M3363.00,2538.15L3363.99,2535.93 M3363.79,2538.57L3365.28,2536.18 M3364.51,2539.10L3366.66,2536.54 M3365.16,2539.72L3368.16,2537.02 M3365.71,2540.42L3369.79,2537.67 M3366.15,2541.19L3371.58,2538.55 M3366.49,2542.02L3373.53,2539.73 M3366.70,2542.89L3375.62,2541.32 M3366.80,2543.78L3377.79,2543.39 M3366.76,2544.67L3379.92,2546.05 M3366.61,2545.55L3381.82,2549.34 M3366.33,2546.40L3383.30,2553.25 M3365.94,2547.20L3379.45,2555.00 M3365.44,2547.94L3374.48,2555.00 M3364.85,2548.60L3371.02,2555.00 M3364.16,2549.18L3368.39,2555.00 M3363.40,2549.65L3366.25,2555.00 M3362.59,2550.01L3364.40,2555.00 M3361.73,2550.26L3362.74,2555.00 M3360.85,2550.38L3361.17,2555.00"/>
<circle cx="3360.4" cy="2544.0" r="5.9" stroke-width="1.6" fill="#fff"/>
<path stroke-width="0.9" d="M3357.60,2542.80h2M3361.20,2542.80h2M3358.60,2546.40q1.8,1.2 3.6,0"/>
<path stroke-width="1.5" d="M3366.39,2571.34L3379.44,2564.40 M3367.22,2573.91L3380.90,2571.99 M3367.18,2576.35L3376.04,2577.92 M3366.39,2578.66L3371.23,2581.24 M3364.92,2580.61L3367.15,2582.92 M3362.92,2582.01L3363.75,2583.71 M3356.08,2582.01L3355.33,2583.55 M3354.08,2580.61L3352.09,2582.67 M3352.61,2578.66L3348.27,2580.97 M3351.82,2576.35L3343.79,2577.77 M3351.78,2573.91L3339.19,2572.14 M3352.61,2571.34L3339.56,2564.40"/>
<circle cx="3359.5" cy="2575.0" r="6.4" stroke-width="1.7" fill="#fff"/>
<path stroke-width="1.2" d="M3351.70,2571.50 A8.4,8.4 0 0 0 3362.00,2583.10"/>
<rect x="3324.4" y="2555.1000000000004" width="71.4" height="8.9" fill="#fff" stroke-width="1.5"/>
<circle cx="3325.3" cy="2559.6000000000004" r="1.2" fill="#c8323c" stroke="none"/><circle cx="3394.9" cy="2559.6000000000004" r="1.2" fill="#c8323c" stroke="none"/>
</g>
<defs>
<path id="sealA" d="M3352.60,2597.89 A38.8,38.8 0 0 1 3352.60,2521.71"/><path id="sealB" d="M3373.90,2523.58 A38.8,38.8 0 0 1 3370.04,2597.28"/><path id="sealC" d="M3335.73,2550.48 A26.0,26.0 0 0 1 3383.93,2549.64"/><path id="sealD" d="M3331.04,2574.55 A32.5,32.5 0 0 0 3388.96,2574.55"/>
</defs>
<g font-family="Liberation Serif, serif" fill="#c8323c" stroke="#c8323c" stroke-width="0.45">
<text font-size="15.8"><textPath href="#sealA" textLength="107.0" lengthAdjust="spacing">UBSALIENSIS</textPath></text>
<text font-size="15.8"><textPath href="#sealB" textLength="97.5" lengthAdjust="spacing">S·ACADEMIAE</textPath></text>
<text font-size="10.4"><textPath href="#sealC" textLength="61.7" lengthAdjust="spacing">GRATIAE</textPath></text>
<text font-size="10.4"><textPath href="#sealD" textLength="71.5" lengthAdjust="spacing">NATURAE</textPath></text>
<text x="3330.7" y="2562.9" font-size="9" textLength="55.6" lengthAdjust="spacing" stroke-width="0.3">VERITAS</text>
</g>
<g fill="#c8323c" stroke="#c8323c" stroke-width="0.9" stroke-linejoin="round">
<path d="M3357.4,2511.2000000000003 Q3360.0,2514.3 3362.6,2511.2000000000003 Q3361.0,2515.8 3362.8,2520.6000000000004 Q3360.0,2518.0 3357.2,2520.6000000000004 Q3359.0,2515.8 3357.4,2511.2000000000003Z"/>
<path fill="none" stroke-width="1.5" d="M3356.0,2516.8 q-2.5,-5 -6,-2.5 q-3,2.5 -5.5,0.5 M3355.5,2519.6000000000004 q-3.5,-2 -7,0.2 M3364.0,2516.8 q2.5,-5 6,-2.5 q3,2.5 5.5,0.5 M3364.5,2519.6000000000004 q3.5,-2 7,0.2"/>
<path d="M3356.6,2598.6 Q3360.0,2600.4 3363.4,2598.6 Q3360.8,2603.4 3363.6,2608.4 Q3360.0,2606.6 3356.4,2608.4 Q3359.2,2603.4 3356.6,2598.6Z"/>
</g>
<text transform="translate(3294.20,2653.30) scale(0.9932,1.0000)" font-family="Liberation Serif, serif" font-size="30" fill="#111111" stroke="#111111" stroke-width="0.4">UPPSALA</text>
<text transform="translate(3264.50,2690.10) scale(0.9964,1.0000)" font-family="Liberation Serif, serif" font-size="30" fill="#111111" stroke="#111111" stroke-width="0.4">UNIVERSITET</text>
<text y="2593.20" font-family="Liberation Sans, sans-serif" font-size="113.5" fill="#404040" stroke="#ffffff" stroke-width="3.6"><tspan x="3493.67" textLength="85.02" lengthAdjust="spacingAndGlyphs">U</tspan><tspan x="3571.95" textLength="83.01" lengthAdjust="spacingAndGlyphs">C</tspan><tspan x="3648.53" textLength="85.56" lengthAdjust="spacingAndGlyphs">D</tspan><tspan x="3730.04" textLength="61.29" lengthAdjust="spacingAndGlyphs">P</tspan></text>
<text y="2646.20" font-family="Liberation Sans, sans-serif" font-size="20.4" fill="#555555" stroke="#ffffff" stroke-width="0.5"><tspan x="3502.75" textLength="69.23" lengthAdjust="spacingAndGlyphs">Uppsala</tspan> <tspan x="3578.44" textLength="70.83" lengthAdjust="spacingAndGlyphs">Conflict</tspan> <tspan x="3655.79" textLength="40.79" lengthAdjust="spacingAndGlyphs">Data</tspan> <tspan x="3703.73" textLength="77.04" lengthAdjust="spacingAndGlyphs">Program</tspan></text>
<text transform="translate(3599.40,2677.10) scale(0.8789,1.0000)" font-family="Liberation Sans, sans-serif" font-size="19.8" fill="#555555" stroke="#ffffff" stroke-width="0.5">ucdp.uu.se</text>
</svg></body></html>
